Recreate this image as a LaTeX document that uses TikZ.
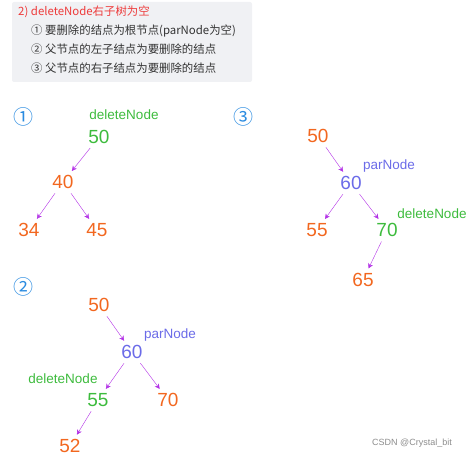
\documentclass[tikz,border=0pt]{standalone}
\usepackage{fontspec}
\setmainfont{Liberation Sans}
\newfontfamily\cjk{Noto Sans CJK SC}
\usetikzlibrary{arrows.meta}
\definecolor{numc}{HTML}{F2671F}
\definecolor{delc}{HTML}{3DBB3D}
\definecolor{parc}{HTML}{6B6BE8}
\definecolor{arrc}{HTML}{B22FE6}
\definecolor{idxc}{HTML}{2A8BE0}
\definecolor{ttlc}{HTML}{EE3B3B}
\definecolor{boxc}{HTML}{F0F1F4}
\tikzset{ num/.style = { inner sep = 1pt % tree value
, font = \fontsize{19}{19}\selectfont
, text = numc
}
, dnum/.style = { num % value to delete
, text = delc
}
, pnum/.style = { num % parent value
, text = parc
}
, tag/.style = { inner sep = 0pt % name beside a value
, font = \fontsize{13.5}{14}\selectfont
}
, idx/.style = { inner sep = 0pt % case number
, font = \cjk\fontsize{20}{20}\selectfont
, text = idxc
}
, line/.style = { inner sep = 0pt % header line
, anchor = west
, font = \cjk\fontsize{11.4}{12}\selectfont
, text = black!80
}
, arr/.style = { draw = arrc
, -{Stealth[length=5pt,width=5pt]}
, shorten <= 4pt
, shorten >= 4pt
}
}
\begin{document}
\begin{tikzpicture}[x=1pt, y=-1pt]
\useasboundingbox (0,0) rectangle (474,457);
% header
\fill[boxc, rounded corners=2pt] (12,2) rectangle (252,82);
\node[line, text=ttlc] (ttl) at (18,12) {2) deleteNode右子树为空};
\node[line] (l1) at (31,31) {① 要删除的结点为根节点(parNode为空)};
\node[line] (l2) at (31,49) {② 父节点的左子结点为要删除的结点};
\node[line] (l3) at (31,68) {③ 父节点的右子结点为要删除的结点};

% case 1
\node[idx] (i1) at (23,117) {①};
\node[tag, text=delc] (d1) at (124,115) {deleteNode};
\node[dnum] (a50) at (99,137) {50};
\node[num] (a40) at (63,182) {40};
\node[num] (a34) at (29,230) {34};
\node[num] (a45) at (97,230) {45};
\draw[arr] (a50) -- (a40);
\draw[arr] (a40) -- (a34);
\draw[arr] (a40) -- (a45);

% case 3
\node[idx] (i3) at (243,117) {③};
\node[num] (c50) at (318,136) {50};
\node[pnum] (c60) at (351,183) {60};
\node[tag, text=parc] (p3) at (389,166) {parNode};
\node[num] (c55) at (317,230) {55};
\node[dnum] (c70) at (387,230) {70};
\node[tag, text=delc] (d3) at (432,214) {deleteNode};
\node[num] (c65) at (363,280) {65};
\draw[arr] (c50) -- (c60);
\draw[arr] (c60) -- (c55);
\draw[arr] (c60) -- (c70);
\draw[arr] (c70) -- (c65);

% case 2
\node[idx] (i2) at (23,287) {②};
\node[num] (b50) at (99,305) {50};
\node[pnum] (b60) at (132,352) {60};
\node[tag, text=parc] (p2) at (170,335) {parNode};
\node[dnum] (b55) at (98,400) {55};
\node[num] (b70) at (168,400) {70};
\node[tag, text=delc] (d2) at (63,379) {deleteNode};
\node[num] (b52) at (70,446) {52};
\draw[arr] (b50) -- (b60);
\draw[arr] (b60) -- (b55);
\draw[arr] (b60) -- (b70);
\draw[arr] (b55) -- (b52);

% mark
\node[inner sep=0pt, font=\fontsize{9}{10}\selectfont, text=black!45] (mk) at (412,443) {CSDN @Crystal\_bit};
\end{tikzpicture}
\end{document}
